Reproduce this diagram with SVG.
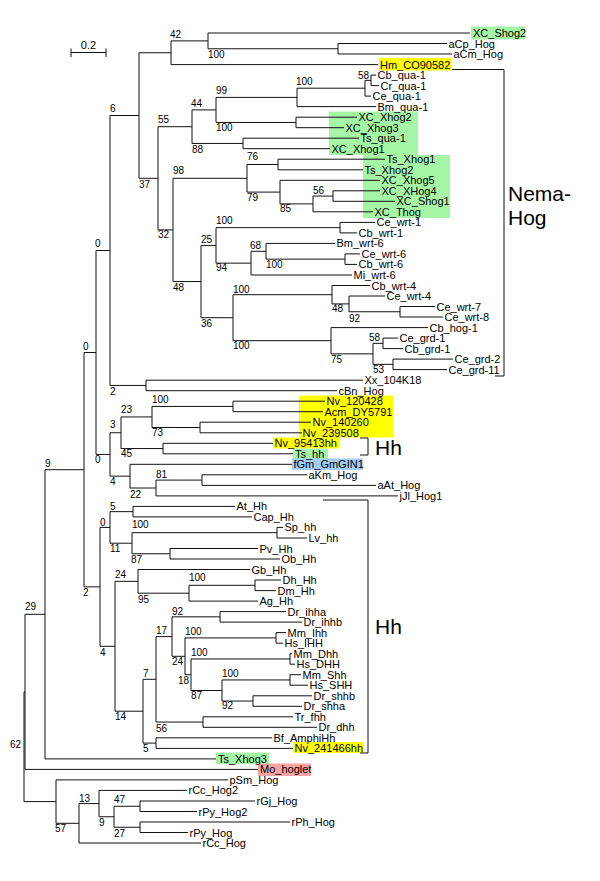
<svg xmlns="http://www.w3.org/2000/svg" width="600" height="881" viewBox="0 0 600 881">
<style>
.l{fill:none;stroke:#111;stroke-width:1}
text{font-family:"Liberation Sans",Arial,Helvetica,sans-serif;fill:#000}
.t{font-size:11px}
.b{font-size:10px}
.c{font-size:21px}
.g{fill:#a6f5a6}.y{fill:#ffff00}.u{fill:#a3cdf5}.p{fill:#f5a3a3}
</style>
<rect width="600" height="881" fill="#fff"/>
<g id="highlights">
<rect class="g" x="471" y="26.5" width="54" height="13"/>
<rect class="y" x="379" y="58" width="72" height="12.5"/>
<rect class="g" x="329" y="111.5" width="89" height="43.5"/>
<rect class="g" x="363" y="155" width="87" height="63"/>
<rect class="y" x="299" y="395.5" width="94" height="42"/>
<rect class="y" x="273" y="437.5" width="66" height="11"/>
<rect class="g" x="293" y="448.5" width="35" height="10.5"/>
<rect class="u" x="292" y="458.5" width="71" height="11.5"/>
<rect class="y" x="293" y="742" width="70" height="11"/>
<rect class="g" x="216" y="752.5" width="53" height="11.5"/>
<rect class="p" x="258" y="763.5" width="53" height="12.5"/>
</g>
<g id="scale">
<path class="l" d="M71 52.5H106M71 48.5V57M106 48.5V57"/>
<text class="t" x="88.5" y="49" text-anchor="middle">0.2</text>
</g>
<g id="connectors" class="l">
<path d="M376 75.1H371V85.6H379"/>
<path d="M371 80.35H365V96.1H371"/>
<path d="M365 88.2H297V106.6H376"/>
<path d="M357 117.2H296V127.7H344"/>
<path d="M297 97.4H216V122.45H296"/>
<path d="M359 138.2H243V148.7H330"/>
<path d="M216 109.9H192V143.45H243"/>
<path d="M385 159.2H278V169.8H363"/>
<path d="M380 190.8H333V201.3H395"/>
<path d="M333 196.05H313V211.8H373"/>
<path d="M380 180.3H280V203.9H313"/>
<path d="M278 164.5H247V192.1H280"/>
<path d="M375 222.4H340V232.9H357"/>
<path d="M360 253.9H345V264.4H357"/>
<path d="M335 243.4H266V259.15H345"/>
<path d="M266 251.3H251V275H352"/>
<path d="M340 227.65H216V263.15H251"/>
<path d="M435 306.5H400V317H443"/>
<path d="M385 296H349V311.75H400"/>
<path d="M370 285.5H332V303.9H349"/>
<path d="M398 338.1H383V348.6H403"/>
<path d="M453 359.1H393V369.6H447"/>
<path d="M383 343.35H373V364.35H393"/>
<path d="M428 327.6H331V353.85H373"/>
<path d="M332 294.7H233V340.7H331"/>
<path d="M216 245.4H201V317.7H233"/>
<path d="M247 178.3H173V281.55H201"/>
<path d="M192 126.7H158V229.9H173"/>
<path d="M447 43.5H338V54H452"/>
<path d="M470 33H208V48.75H338"/>
<path d="M208 40.9H171V64.6H378"/>
<path d="M171 52.75H139V178.3H158"/>
<path d="M363 380.2H146V390.7H337"/>
<path d="M139 115.5H110V385.45H146"/>
<path d="M325 401.2H233V411.7H323"/>
<path d="M311 422.2H200V432.8H302"/>
<path d="M233 406.45H152V427.5H200"/>
<path d="M273 443.3H163V453.8H293"/>
<path d="M152 416.95H121V448.55H163"/>
<path d="M307 474.8H202V485.4H376"/>
<path d="M202 480.1H156V495.9H398"/>
<path d="M292 464.3H130V488H156"/>
<path d="M121 432.75H110V476.15H130"/>
<path d="M110 250.5H96V454.45H110"/>
<path d="M235 506.4H133V516.9H252"/>
<path d="M283 527.4H277V538H307"/>
<path d="M258 548.5H170V559H280"/>
<path d="M277 532.7H132V553.75H170"/>
<path d="M133 511.65H110V543.2H132"/>
<path d="M281 580H255V590.6H276"/>
<path d="M255 585.3H189V601.1H258"/>
<path d="M250 569.5H138V593.2H189"/>
<path d="M286 611.6H220V622.1H302"/>
<path d="M286 632.6H276V643.2H283"/>
<path d="M292 653.7H290V664.2H295"/>
<path d="M301 674.7H290V685.2H308"/>
<path d="M312 695.8H253V706.3H302"/>
<path d="M290 679.95H222V701.05H253"/>
<path d="M290 658.95H191V690.5H222"/>
<path d="M276 637.9H185V674.7H191"/>
<path d="M220 616.85H172V656.3H185"/>
<path d="M293 716.8H203V727.3H317"/>
<path d="M172 636.6H156V722.05H203"/>
<path d="M272 737.8H156V748.4H293"/>
<path d="M156 679.3H143V743.1H156"/>
<path d="M138 581.35H115V711.2H143"/>
<path d="M110 527.4H100V646.3H115"/>
<path d="M96 352.5H84V586.85H100"/>
<path d="M84 469.7H45V758.9H216"/>
<path d="M45 614.3H25V769.4H258"/>
<path d="M255 801H140V811.5H197"/>
<path d="M290 822H140V832.5H188"/>
<path d="M140 806.25H114V827.25H140"/>
<path d="M187 790.4H99V816.75H114"/>
<path d="M99 803.6H79V843H201"/>
<path d="M228 779.9H56V823.3H79"/>
<path d="M25 691.85H24V801.6H56"/>
<path d="M452 69.5H504V376H495"/>
<path d="M360 438H368V455H360"/>
<path d="M323 500H368V753H360"/>
</g>
<g id="support" class="b">
<text x="170" y="38">42</text>
<text x="208" y="58">100</text>
<text x="110" y="112">6</text>
<text x="216" y="94">99</text>
<text x="191" y="107">44</text>
<text x="216" y="131">100</text>
<text x="158" y="123">55</text>
<text x="192" y="153">88</text>
<text x="296" y="85">100</text>
<text x="358" y="79">58</text>
<text x="139" y="188">37</text>
<text x="173" y="174">98</text>
<text x="247" y="160">76</text>
<text x="247" y="201">79</text>
<text x="280" y="212">85</text>
<text x="313" y="194">56</text>
<text x="158" y="238">32</text>
<text x="216" y="224">100</text>
<text x="201" y="243">25</text>
<text x="250" y="249">68</text>
<text x="216" y="271">94</text>
<text x="266" y="268">100</text>
<text x="173" y="291">48</text>
<text x="233" y="293">100</text>
<text x="201" y="327">36</text>
<text x="233" y="349">100</text>
<text x="332" y="312">48</text>
<text x="349" y="322">92</text>
<text x="331" y="363">75</text>
<text x="369" y="341">58</text>
<text x="373" y="373">53</text>
<text x="95" y="247">0</text>
<text x="83" y="350">0</text>
<text x="110" y="395">2</text>
<text x="152" y="403">100</text>
<text x="121" y="413">23</text>
<text x="110" y="428">3</text>
<text x="152" y="436">73</text>
<text x="121" y="457">45</text>
<text x="95" y="463">0</text>
<text x="156" y="478">81</text>
<text x="110" y="485">4</text>
<text x="130" y="498">22</text>
<text x="45" y="467">9</text>
<text x="110" y="510">5</text>
<text x="100" y="526">0</text>
<text x="132" y="528">100</text>
<text x="110" y="552">11</text>
<text x="131" y="563">87</text>
<text x="115" y="578">24</text>
<text x="189" y="581">100</text>
<text x="83" y="596">2</text>
<text x="138" y="603">95</text>
<text x="25" y="610">29</text>
<text x="172" y="615">92</text>
<text x="156" y="634">17</text>
<text x="185" y="635">100</text>
<text x="100" y="656">4</text>
<text x="172" y="665">24</text>
<text x="191" y="656">100</text>
<text x="143" y="677">7</text>
<text x="222" y="677">100</text>
<text x="178" y="684">18</text>
<text x="191" y="699">87</text>
<text x="222" y="709">92</text>
<text x="115" y="720">14</text>
<text x="156" y="732">56</text>
<text x="10" y="748">62</text>
<text x="143" y="752">5</text>
<text x="79" y="802">13</text>
<text x="114" y="803">47</text>
<text x="99" y="826">9</text>
<text x="55" y="832">57</text>
<text x="114" y="837">27</text>
</g>
<g id="leaves" class="t">
<g id="n-XC_Shog2"><text x="473" y="37">XC_Shog2</text></g>
<g id="n-aCp_Hog"><text x="448.5" y="47.5">aCp_Hog</text></g>
<g id="n-aCm_Hog"><text x="453.5" y="58">aCm_Hog</text></g>
<g id="n-Hm_CO90582"><text x="380" y="68.6">Hm_CO90582</text></g>
<g id="n-Cb_qua-1"><text x="377.5" y="79.1">Cb_qua-1</text></g>
<g id="n-Cr_qua-1"><text x="380.5" y="89.6">Cr_qua-1</text></g>
<g id="n-Ce_qua-1"><text x="372.5" y="100.1">Ce_qua-1</text></g>
<g id="n-Bm_qua-1"><text x="377.5" y="110.6">Bm_qua-1</text></g>
<g id="n-XC_Xhog2"><text x="358.5" y="121.2">XC_Xhog2</text></g>
<g id="n-XC_Xhog3"><text x="345.5" y="131.7">XC_Xhog3</text></g>
<g id="n-Ts_qua-1"><text x="360.5" y="142.2">Ts_qua-1</text></g>
<g id="n-XC_Xhog1"><text x="331.5" y="152.7">XC_Xhog1</text></g>
<g id="n-Ts_Xhog1"><text x="386.5" y="163.2">Ts_Xhog1</text></g>
<g id="n-Ts_Xhog2"><text x="364.5" y="173.8">Ts_Xhog2</text></g>
<g id="n-XC_Xhog5"><text x="381.5" y="184.3">XC_Xhog5</text></g>
<g id="n-XC_XHog4"><text x="381.5" y="194.8">XC_XHog4</text></g>
<g id="n-XC_Shog1"><text x="396.5" y="205.3">XC_Shog1</text></g>
<g id="n-XC_Thog"><text x="374.5" y="215.8">XC_Thog</text></g>
<g id="n-Ce_wrt-1"><text x="376.5" y="226.4">Ce_wrt-1</text></g>
<g id="n-Cb_wrt-1"><text x="358.5" y="236.9">Cb_wrt-1</text></g>
<g id="n-Bm_wrt-6"><text x="336.5" y="247.4">Bm_wrt-6</text></g>
<g id="n-Ce_wrt-6"><text x="361.5" y="257.9">Ce_wrt-6</text></g>
<g id="n-Cb_wrt-6"><text x="358.5" y="268.4">Cb_wrt-6</text></g>
<g id="n-Mi_wrt-6"><text x="353.5" y="279">Mi_wrt-6</text></g>
<g id="n-Cb_wrt-4"><text x="371.5" y="289.5">Cb_wrt-4</text></g>
<g id="n-Ce_wrt-4"><text x="386.5" y="300">Ce_wrt-4</text></g>
<g id="n-Ce_wrt-7"><text x="436.5" y="310.5">Ce_wrt-7</text></g>
<g id="n-Ce_wrt-8"><text x="444.5" y="321">Ce_wrt-8</text></g>
<g id="n-Cb_hog-1"><text x="429.5" y="331.6">Cb_hog-1</text></g>
<g id="n-Ce_grd-1"><text x="399.5" y="342.1">Ce_grd-1</text></g>
<g id="n-Cb_grd-1"><text x="404.5" y="352.6">Cb_grd-1</text></g>
<g id="n-Ce_grd-2"><text x="454.5" y="363.1">Ce_grd-2</text></g>
<g id="n-Ce_grd-11"><text x="448.5" y="373.6">Ce_grd-11</text></g>
<g id="n-Xx_104K18"><text x="364.5" y="384.2">Xx_104K18</text></g>
<g id="n-cBn_Hog"><text x="338.5" y="394.7">cBn_Hog</text></g>
<g id="n-Nv_120428"><text x="326.5" y="405.2">Nv_120428</text></g>
<g id="n-Acm_DY5791"><text x="324.5" y="415.7">Acm_DY5791</text></g>
<g id="n-Nv_140260"><text x="312.5" y="426.2">Nv_140260</text></g>
<g id="n-Nv_239508"><text x="302.5" y="436.8">Nv_239508</text></g>
<g id="n-Nv_95413hh"><text x="274.5" y="447.3">Nv_95413hh</text></g>
<g id="n-Ts_hh"><text x="295" y="457.8">Ts_hh</text></g>
<g id="n-fGm_GmGIN1"><text x="293.5" y="468.3">fGm_GmGIN1</text></g>
<g id="n-aKm_Hog"><text x="308.5" y="478.8">aKm_Hog</text></g>
<g id="n-aAt_Hog"><text x="377.5" y="489.4">aAt_Hog</text></g>
<g id="n-jJl_Hog1"><text x="399.5" y="499.9">jJl_Hog1</text></g>
<g id="n-At_Hh"><text x="236.5" y="510.4">At_Hh</text></g>
<g id="n-Cap_Hh"><text x="253.5" y="520.9">Cap_Hh</text></g>
<g id="n-Sp_hh"><text x="284.5" y="531.4">Sp_hh</text></g>
<g id="n-Lv_hh"><text x="308.5" y="542">Lv_hh</text></g>
<g id="n-Pv_Hh"><text x="259.5" y="552.5">Pv_Hh</text></g>
<g id="n-Ob_Hh"><text x="281.5" y="563">Ob_Hh</text></g>
<g id="n-Gb_Hh"><text x="251.5" y="573.5">Gb_Hh</text></g>
<g id="n-Dh_Hh"><text x="282.5" y="584">Dh_Hh</text></g>
<g id="n-Dm_Hh"><text x="277.5" y="594.6">Dm_Hh</text></g>
<g id="n-Ag_Hh"><text x="259.5" y="605.1">Ag_Hh</text></g>
<g id="n-Dr_ihha"><text x="287.5" y="615.6">Dr_ihha</text></g>
<g id="n-Dr_ihhb"><text x="303.5" y="626.1">Dr_ihhb</text></g>
<g id="n-Mm_Ihh"><text x="287.5" y="636.6">Mm_Ihh</text></g>
<g id="n-Hs_IHH"><text x="284.5" y="647.2">Hs_IHH</text></g>
<g id="n-Mm_Dhh"><text x="293.5" y="657.7">Mm_Dhh</text></g>
<g id="n-Hs_DHH"><text x="296.5" y="668.2">Hs_DHH</text></g>
<g id="n-Mm_Shh"><text x="302.5" y="678.7">Mm_Shh</text></g>
<g id="n-Hs_SHH"><text x="309.5" y="689.2">Hs_SHH</text></g>
<g id="n-Dr_shhb"><text x="313.5" y="699.8">Dr_shhb</text></g>
<g id="n-Dr_shha"><text x="303.5" y="710.3">Dr_shha</text></g>
<g id="n-Tr_fhh"><text x="294.5" y="720.8">Tr_fhh</text></g>
<g id="n-Dr_dhh"><text x="318.5" y="731.3">Dr_dhh</text></g>
<g id="n-Bf_AmphiHh"><text x="273.5" y="741.8">Bf_AmphiHh</text></g>
<g id="n-Nv_241466hh"><text x="294.5" y="752.4">Nv_241466hh</text></g>
<g id="n-Ts_Xhog3"><text x="218" y="762.9">Ts_Xhog3</text></g>
<g id="n-Mo_hoglet"><text x="260" y="773.4">Mo_hoglet</text></g>
<g id="n-pSm_Hog"><text x="229.5" y="783.9">pSm_Hog</text></g>
<g id="n-rCc_Hog2"><text x="188.5" y="794.4">rCc_Hog2</text></g>
<g id="n-rGj_Hog"><text x="256.5" y="805">rGj_Hog</text></g>
<g id="n-rPy_Hog2"><text x="198.5" y="815.5">rPy_Hog2</text></g>
<g id="n-rPh_Hog"><text x="291.5" y="826">rPh_Hog</text></g>
<g id="n-rPy_Hog"><text x="189.5" y="836.5">rPy_Hog</text></g>
<g id="n-rCc_Hog"><text x="202.5" y="847">rCc_Hog</text></g>
</g>
<g id="clade-nemahog" class="c">
<text x="508" y="201">Nema-</text>
<text x="508" y="225">Hog</text>
</g>
<g id="clade-hh1"><text class="c" x="375" y="455">Hh</text></g>
<g id="clade-hh2"><text class="c" x="375" y="634">Hh</text></g>
</svg>
